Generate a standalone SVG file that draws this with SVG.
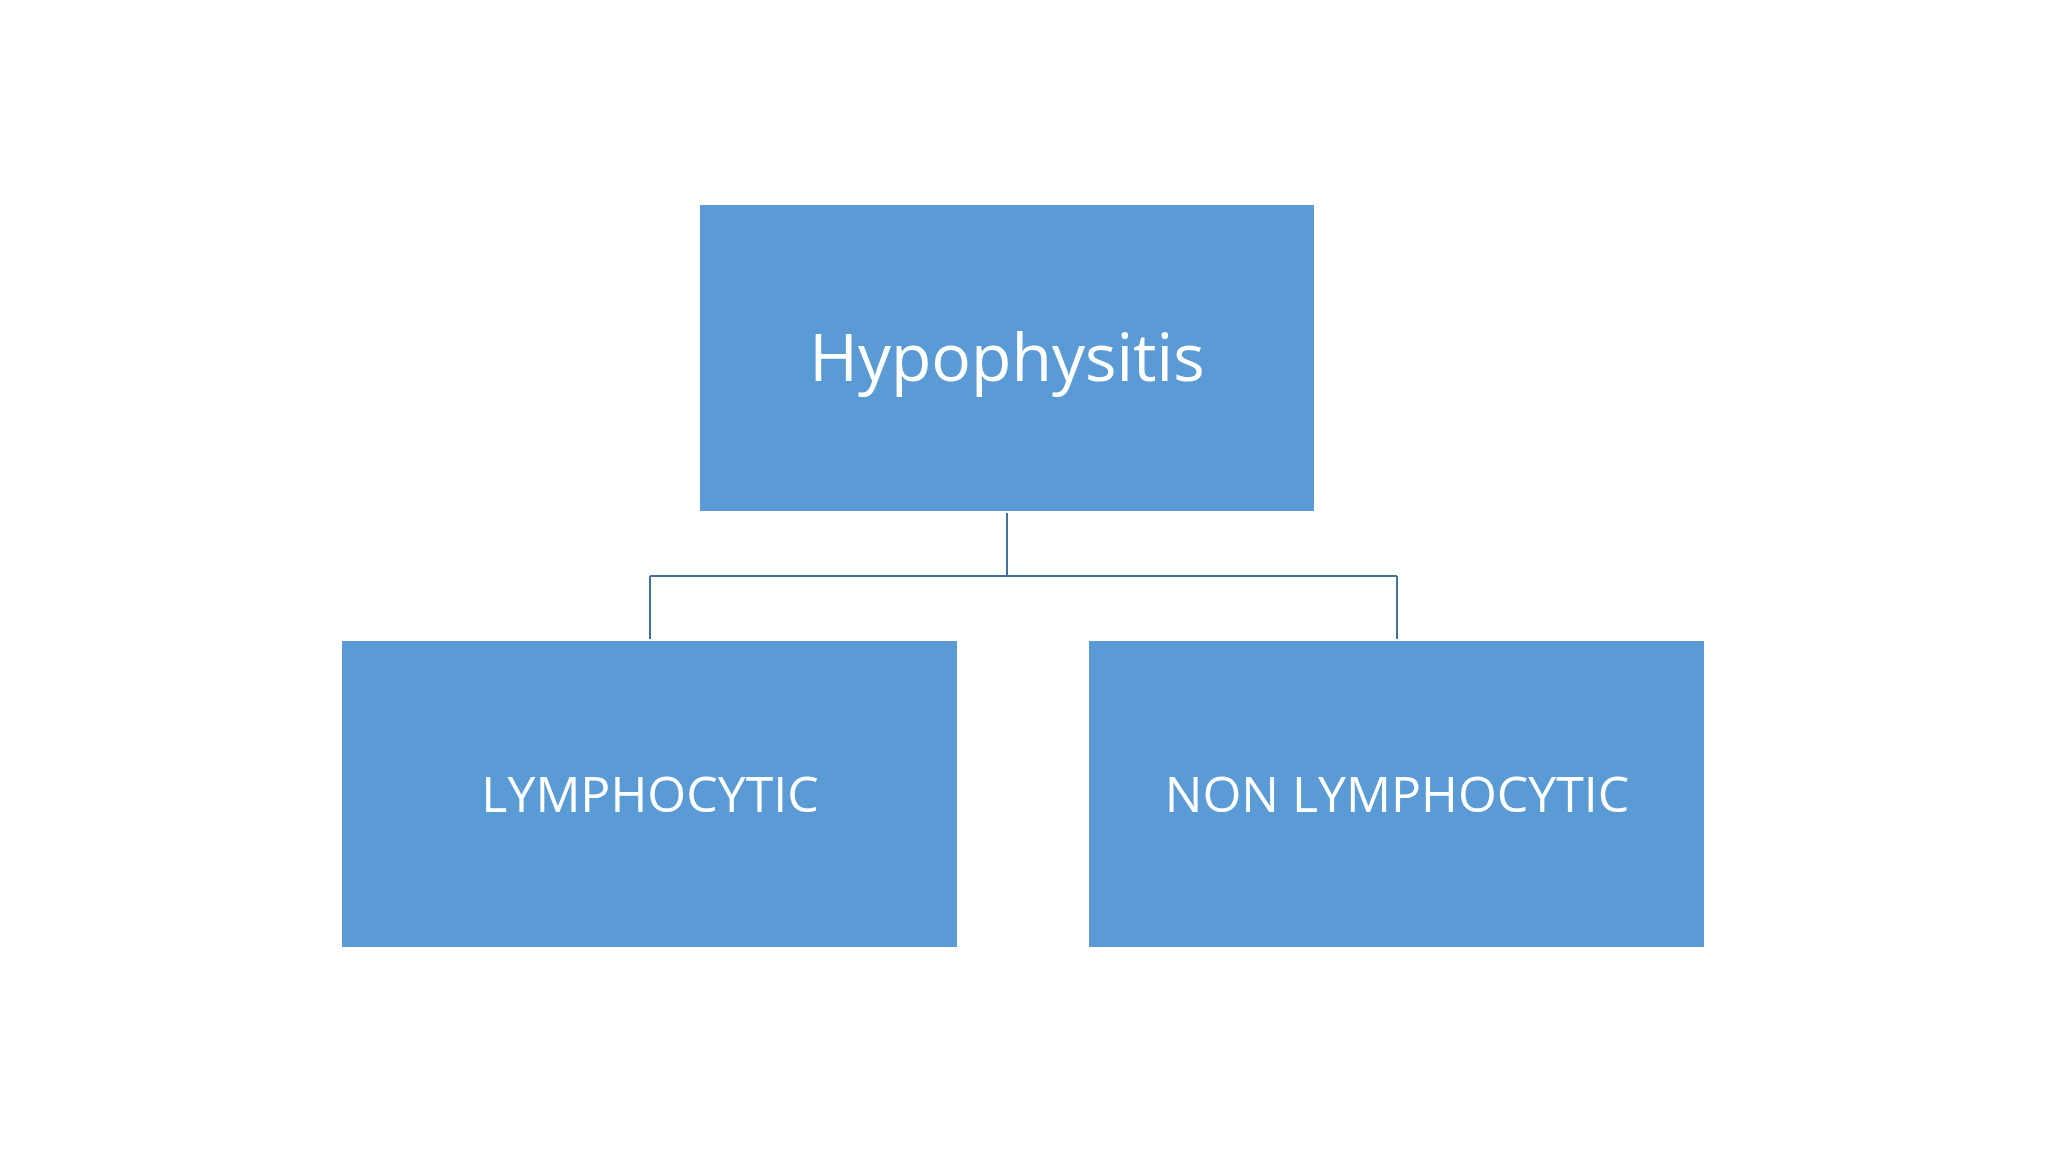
<svg xmlns="http://www.w3.org/2000/svg" width="2048" height="1152" viewBox="0 0 2048 1152">
<style>
.box{fill:#5B9BD5}
.t{fill:#fff;font-family:"Open Sans","Liberation Sans",sans-serif;text-anchor:middle}
.c{stroke:#41719C;stroke-width:2;fill:none}
</style>
<rect width="2048" height="1152" fill="#fff"/>
<g id="connectors">
<path class="c" d="M1007 513V576M650 576H1397M650 576V639M1397 576V639"/>
</g>
<g id="hypophysitis"><rect class="box" x="700" y="205" width="614" height="306"/><text class="t" x="1007" y="381" font-size="66">Hypophysitis</text></g>
<g id="lymphocytic"><rect class="box" x="342" y="641" width="615" height="306"/><text class="t" x="650" y="812" font-size="50">LYMPHOCYTIC</text></g>
<g id="non-lymphocytic"><rect class="box" x="1089" y="641" width="615" height="306"/><text class="t" x="1397" y="812" font-size="50">NON LYMPHOCYTIC</text></g>
</svg>
